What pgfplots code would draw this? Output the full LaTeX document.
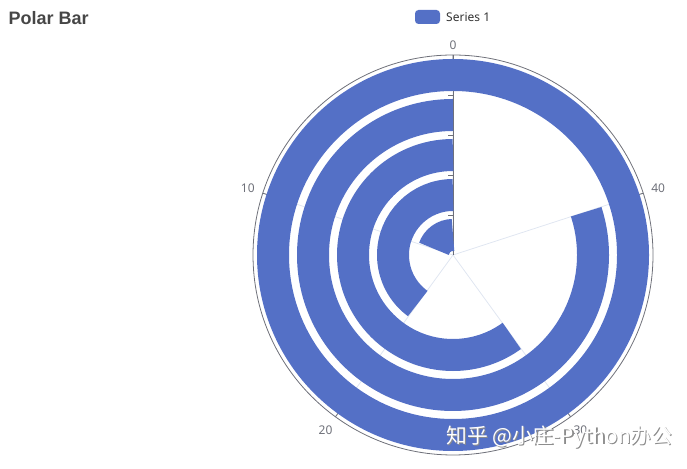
\documentclass[border=0pt]{standalone}
\usepackage{pgfplots}
\pgfplotsset{compat=1.18}
\usepackage{pgfplotstable}
\usepgfplotslibrary{polar}
\usepackage{fontspec}
\setmainfont{Noto Sans}
\newfontfamily\titlefont{Liberation Sans}
\newfontfamily\cjk{Noto Sans CJK SC}
\definecolor{barblue}{HTML}{5470C6}
\definecolor{axisgray}{HTML}{6E7079}
\definecolor{splitgray}{HTML}{E0E6F1}
\definecolor{titlegray}{HTML}{464646}
\definecolor{legtext}{HTML}{333333}

% r = centre radius of the ring (px), value = bar value (angle axis 0..50)
\pgfplotstableread{
r value
20 10
60 20
100 30
140 40
180 50
}\bars

\begin{document}
\begin{tikzpicture}[x=1bp,y=1bp]
\path[use as bounding box] (0,0) rectangle (687,469);
\begin{polaraxis}[
  at={(453bp,214bp)}, anchor=center,
  scale only axis, width=400bp, height=400bp,
  xmin=0, xmax=360, ymin=0, ymax=200,
  xtick={18,90,162,234,306},
  xticklabels={40,0,10,20,30},
  ytick=\empty,
  xmajorgrids, ymajorgrids=false,
  grid style={splitgray, line width=0.8bp},
  x axis line style={axisgray, line width=0.8bp},
  y axis line style={draw=none},
  tick align=outside, major tick length=5bp,
  tick style={axisgray, line width=0.8bp},
  /pgf/number format/assume math mode=true,
  xticklabel style={font=\fontsize{12bp}{14bp}\selectfont, text=axisgray, inner sep=10bp},
]
\addplot[scatter, only marks, mark=*, mark size=0pt,
  visualization depends on={\thisrow{r} \as \rad},
  visualization depends on={\thisrow{value} \as \val},
  scatter/@pre marker code/.code={%
    \draw[barblue, line width=32bp] (90:\rad bp) arc[start angle=90, delta angle=7.2*\val, radius=\rad bp];},
  scatter/@post marker code/.code={}]
  table[x expr=0, y expr=0] {\bars};
% radius axis line and ticks
\draw[axisgray, line width=0.8bp] (axis cs:90,0) -- (axis cs:90,200);
\pgfplotsinvokeforeach{40,80,120,160}{
  \draw[axisgray, line width=0.8bp] (axis cs:90,#1) -- ++(-5bp,0);
}
\end{polaraxis}
% title
\node[anchor=west, inner sep=0pt, text=titlegray] at (8.5,451)
  {\titlefont\fontsize{18bp}{20bp}\selectfont\bfseries Polar Bar};
% legend
\fill[barblue, rounded corners=3.5bp] (415,445) rectangle (440,459);
\node[anchor=west, inner sep=0pt, text=legtext] at (446,452)
  {\fontsize{12bp}{14bp}\selectfont Series 1};
% watermark
\node[anchor=west, inner sep=0pt, text=black!45] at (447.2,30.8)
  {\cjk\fontsize{20.8bp}{22bp}\selectfont 知乎 @小庄-Python办公};
\node[anchor=west, inner sep=0pt, text=white] at (446,32)
  {\cjk\fontsize{20.8bp}{22bp}\selectfont 知乎 @小庄-Python办公};
\end{tikzpicture}
\end{document}
